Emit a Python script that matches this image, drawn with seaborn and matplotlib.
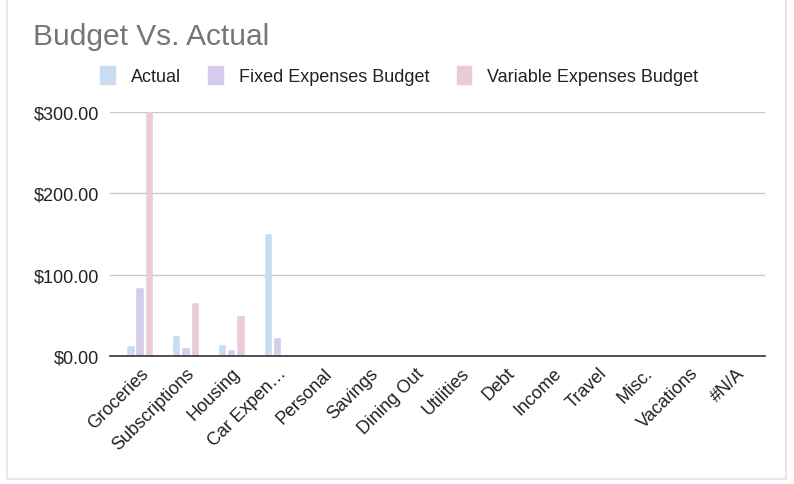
import pandas as pd
import seaborn as sns
import matplotlib.pyplot as plt
from matplotlib.ticker import FuncFormatter

# chart data
categories = ["Groceries", "Subscriptions", "Housing", "Car Expen\u2026", "Personal", "Savings",
              "Dining Out", "Utilities", "Debt", "Income", "Travel", "Misc.", "Vacations", "#N/A"]
actual = [11.5, 23.5, 12.5, 149, 0, 0, 0, 0, 0, 0, 0, 0, 0, 0]
fixed_budget = [82.5, 9, 5.5, 20.5, 0, 0, 0, 0, 0, 0, 0, 0, 0, 0]
variable_budget = [300, 63.5, 48.5, 0, 0, 0, 0, 0, 0, 0, 0, 0, 0, 0]
series_names = ["Actual", "Fixed Expenses Budget", "Variable Expenses Budget"]
series_colors = ["#c9ddf2", "#d5cceb", "#eccbd8"]

rows = []
for nome, valores in zip(series_names, [actual, fixed_budget, variable_budget]):
    for cat, v in zip(categories, valores):
        rows.append({"categoria": cat, "serie": nome, "valor": v})
df = pd.DataFrame(rows)

sns.set_style("white")
plt.rcParams["font.family"] = ["Liberation Sans", "DejaVu Sans"]

fig = plt.figure(figsize=(7.94, 4.85), dpi=100)
ax = fig.add_axes([0.139, 0.264, 0.825, 0.503])

sns.barplot(data=df, x="categoria", y="valor", hue="serie", order=categories,
            hue_order=series_names, palette=series_colors, width=0.61, gap=0.42,
            saturation=1, ax=ax, legend=True)

# slightly rounded bar tops
for p in ax.patches:
    p.set_edgecolor(p.get_facecolor())
    p.set_linewidth(1.2)
    p.set_joinstyle("round")

ax.set_ylim(0, 300)
ax.set_yticks([0, 100, 200, 300])
ax.yaxis.set_major_formatter(FuncFormatter(lambda v, p: f"${v:,.2f}"))
ax.grid(axis="y", color="#c8c8c8", linewidth=1)
ax.set_axisbelow(True)
for s in ["top", "right", "left"]:
    ax.spines[s].set_visible(False)
ax.spines["bottom"].set_color("#333333")
ax.spines["bottom"].set_linewidth(1.2)
ax.spines["bottom"].set_zorder(5)
ax.set_xlabel("")
ax.set_ylabel("")
ax.tick_params(axis="both", length=0, labelsize=13, colors="#222222")
ax.tick_params(axis="y", pad=8)
ax.tick_params(axis="x", pad=6)
plt.setp(ax.get_xticklabels(), rotation=45, ha="right", rotation_mode="anchor")
ax.set_xlim(-0.65, len(categories) - 0.35)

ax.legend_.remove()
handles = [plt.Rectangle((0, 0), 1, 1, color=c) for c in series_colors]
fig.legend(handles, series_names, loc="center", bbox_to_anchor=(0.503, 0.842), ncol=3,
           frameon=False, fontsize=13, handlelength=0.8, handleheight=1.1,
           handletextpad=0.9, columnspacing=1.5, labelcolor="#222222")

fig.text(0.041, 0.924, "Budget Vs. Actual", fontsize=21.5, color="#757575", va="center")

# faint frame of the embedded chart
fig.add_artist(plt.Rectangle((0.009, 0.01), 0.981, 1.0, transform=fig.transFigure,
                             fill=False, edgecolor="#e6e1e2", linewidth=1.2))

fig.savefig("out.png", dpi=100, facecolor="white")
